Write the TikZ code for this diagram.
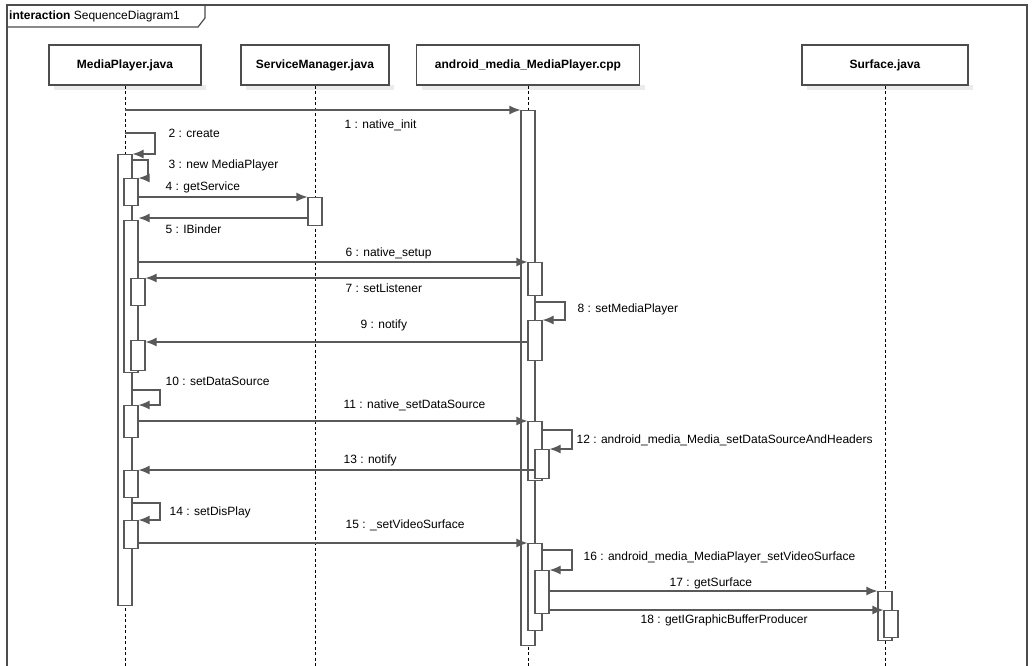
\documentclass[tikz,border=0pt]{standalone}
\usepackage{fontspec}
\setmainfont{Liberation Sans}
\usetikzlibrary{positioning,arrows.meta}

\tikzset{
  head/.style={draw=black!70, fill=white, line width=1.2pt, minimum width=#1, minimum height=40pt, font=\fontsize{12}{14}\selectfont\bfseries, inner sep=0pt},
  shadow/.style={fill=black!8, draw=none},
  life/.style={line width=0.9pt, dash pattern=on 3pt off 2.5pt},
  act/.style={draw=black!65, fill=white, line width=1.2pt, minimum width=14pt, inner sep=0pt, anchor=north},
  msg/.style={draw=black!65, line width=1.2pt, -{Latex[length=11pt,width=9pt]}},
  lbl/.style={font=\fontsize{12}{14}\selectfont, inner sep=1pt, anchor=west}
}
\newcommand{\actbox}[4]{\node[act, minimum height=#4pt-#3pt] (#1) at (#2,#3) {};}

\begin{document}
\begin{tikzpicture}[x=1pt, y=-1pt]
    \useasboundingbox (0,0) rectangle (1035,665);

    % frame
    \draw[black!70, line width=1.2pt] (7,675) -- (7,5) -- (1027,5) -- (1027,675);
    \draw[black!70, line width=1.2pt] (7,27) -- (198,27) -- (205,18) -- (205,5);
    \node[lbl, anchor=west] (title) at (8,16) {\textbf{interaction} SequenceDiagram1};

    % heads
    \foreach \cx/\w in {125/152, 315/148, 528/223, 885/166}
        \fill[shadow] (\cx-\w/2+5,85) rectangle (\cx+\w/2+5,90);
    \node[head=152pt] (mp) at (125,65) {MediaPlayer.java};
    \node[head=148pt] (sm) at (315,65) {ServiceManager.java};
    \node[head=223pt] (cpp) at (528,65) {android\_media\_MediaPlayer.cpp};
    \node[head=166pt] (sf) at (885,65) {Surface.java};

    % lifelines
    \foreach \n in {mp, sm, cpp, sf}
        \draw[life] (\n.south) -- ++(0,580);

    % activations
    \actbox{cpp1}{528}{110}{645}
    \actbox{mp1}{125}{154}{605}
    \actbox{mp2}{131}{178}{205}
    \actbox{sm1}{315}{197}{225}
    \actbox{mp3}{131}{220}{372}
    \actbox{cpp2}{535}{262}{295}
    \actbox{mp4}{138}{278}{305}
    \actbox{cpp3}{535}{320}{360}
    \actbox{mp5}{138}{340}{370}
    \actbox{mp6}{131}{405}{437}
    \actbox{cpp4}{535}{421}{480}
    \actbox{cpp5}{542}{449}{478}
    \actbox{mp7}{131}{470}{497}
    \actbox{mp8}{131}{520}{548}
    \actbox{cpp6}{535}{543}{630}
    \actbox{cpp7}{542}{570}{613}
    \actbox{sf1}{885}{591}{640}
    \actbox{sf2}{891}{610}{637}

    % messages
    \draw[msg] (125,110) -- (cpp1.north west) node[lbl] at (343,125) {1 : native\_init};
    \draw[msg] (125,133) -| (155,154) -- (mp1.north east) node[lbl] at (167,133) {2 : create};
    \draw[msg] (mp1.north east |- 0,160) -| (148,178) -- (mp2.north east) node[lbl] at (167,165) {3 : new MediaPlayer};
    \draw[msg] (mp2.east |- sm1.north) -- (sm1.north west) node[lbl] at (164,187) {4 : getService};
    \draw[msg] (sm1.west |- 0,218) -- (mp3.east |- 0,218) node[lbl] at (164,229) {5 : IBinder};
    \draw[msg] (mp3.east |- cpp2.north) -- (cpp2.north west) node[lbl] at (344,253) {6 : native\_setup};
    \draw[msg] (cpp1.west |- mp4.north) -- (mp4.north east) node[lbl] at (344,288) {7 : setListener};
    \draw[msg] (cpp1.east |- 0,302) -| (565,320) -- (cpp3.north east) node[lbl] at (576,309) {8 : setMediaPlayer};
    \draw[msg] (cpp3.west |- 0,342) -- (mp5.east |- 0,342) node[lbl] at (359,325) {9 : notify};
    \draw[msg] (mp1.east |- 0,390) -| (160,405) -- (mp6.north east) node[lbl] at (164,381) {10 : setDataSource};
    \draw[msg] (mp6.east |- cpp4.north) -- (cpp4.north west) node[lbl] at (342,405) {11 : native\_setDataSource};
    \draw[msg] (cpp4.east |- 0,430) -| (572,449) -- (cpp5.north east) node[lbl] at (575,440) {12 : android\_media\_Media\_setDataSourceAndHeaders};
    \draw[msg] (cpp5.west |- 0,470) -- (mp7.north east) node[lbl] at (342,460) {13 : notify};
    \draw[msg] (mp1.east |- 0,503) -| (160,520) -- (mp8.north east) node[lbl] at (168,512) {14 : setDisPlay};
    \draw[msg] (mp8.east |- cpp6.north) -- (cpp6.north west) node[lbl] at (344,525) {15 : \_setVideoSurface};
    \draw[msg] (cpp6.east |- 0,550) -| (572,570) -- (cpp7.north east) node[lbl] at (582,557) {16 : android\_media\_MediaPlayer\_setVideoSurface};
    \draw[msg] (cpp7.east |- sf1.north) -- (sf1.north west) node[lbl] at (668,583) {17 : getSurface};
    \draw[msg] (cpp7.east |- sf2.north) -- (sf2.north west) node[lbl] at (639,620) {18 : getIGraphicBufferProducer};

\end{tikzpicture}
\end{document}
